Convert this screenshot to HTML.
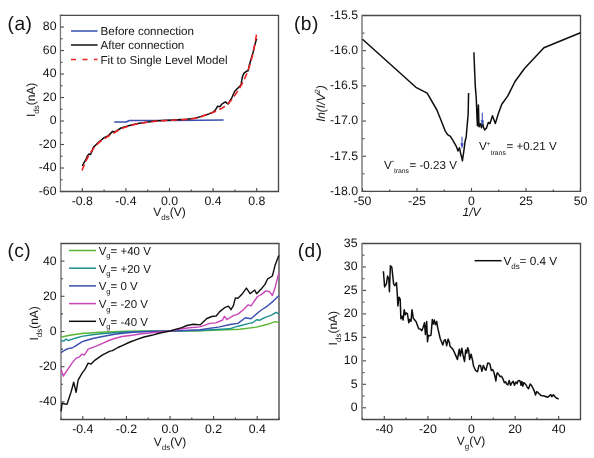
<!DOCTYPE html>
<html><head><meta charset="utf-8"><style>
html,body{margin:0;padding:0;background:#fff;width:594px;height:458px;overflow:hidden}
svg{display:block;font-family:"Liberation Sans", sans-serif;text-rendering:geometricPrecision}
</style></head><body>
<svg width="594" height="458" viewBox="0 0 594 458">
<defs><filter id="bl" x="-5%" y="-5%" width="110%" height="110%"><feGaussianBlur stdDeviation="0.3"/></filter></defs>
<rect width="594" height="458" fill="#fff"/>
<g filter="url(#bl)">
<path d="M60.5 15.3 H278.5 V191.5 H60.5" fill="none" stroke="#484848" stroke-width="1.35" stroke-linecap="square"/>
<line x1="60.45" y1="14.7" x2="60.45" y2="192.1" stroke="#7a7a7a" stroke-width="1.3"/>
<line x1="104.1" y1="191.5" x2="104.1" y2="189.5" stroke="#484848" stroke-width="1.1"/>
<line x1="147.7" y1="191.5" x2="147.7" y2="189.5" stroke="#484848" stroke-width="1.1"/>
<line x1="191.3" y1="191.5" x2="191.3" y2="189.5" stroke="#484848" stroke-width="1.1"/>
<line x1="234.9" y1="191.5" x2="234.9" y2="189.5" stroke="#484848" stroke-width="1.1"/>
<line x1="82.3" y1="191.5" x2="82.3" y2="188" stroke="#484848" stroke-width="1.1"/>
<text x="82.3" y="205" font-size="12.3" text-anchor="middle" fill="#141414">-0.8</text>
<line x1="125.9" y1="191.5" x2="125.9" y2="188" stroke="#484848" stroke-width="1.1"/>
<text x="125.9" y="205" font-size="12.3" text-anchor="middle" fill="#141414">-0.4</text>
<line x1="169.5" y1="191.5" x2="169.5" y2="188" stroke="#484848" stroke-width="1.1"/>
<text x="169.5" y="205" font-size="12.3" text-anchor="middle" fill="#141414">0.0</text>
<line x1="213.1" y1="191.5" x2="213.1" y2="188" stroke="#484848" stroke-width="1.1"/>
<text x="213.1" y="205" font-size="12.3" text-anchor="middle" fill="#141414">0.4</text>
<line x1="256.7" y1="191.5" x2="256.7" y2="188" stroke="#484848" stroke-width="1.1"/>
<text x="256.7" y="205" font-size="12.3" text-anchor="middle" fill="#141414">0.8</text>
<line x1="60.5" y1="179.75" x2="62.5" y2="179.75" stroke="#484848" stroke-width="1.1"/>
<line x1="60.5" y1="156.26" x2="62.5" y2="156.26" stroke="#484848" stroke-width="1.1"/>
<line x1="60.5" y1="132.77" x2="62.5" y2="132.77" stroke="#484848" stroke-width="1.1"/>
<line x1="60.5" y1="109.27" x2="62.5" y2="109.27" stroke="#484848" stroke-width="1.1"/>
<line x1="60.5" y1="85.78" x2="62.5" y2="85.78" stroke="#484848" stroke-width="1.1"/>
<line x1="60.5" y1="62.29" x2="62.5" y2="62.29" stroke="#484848" stroke-width="1.1"/>
<line x1="60.5" y1="38.79" x2="62.5" y2="38.79" stroke="#484848" stroke-width="1.1"/>
<line x1="60.5" y1="15.3" x2="62.5" y2="15.3" stroke="#484848" stroke-width="1.1"/>
<line x1="60.5" y1="191.5" x2="64" y2="191.5" stroke="#484848" stroke-width="1.1"/>
<text x="56.5" y="194.9" font-size="12.3" text-anchor="end" fill="#141414">-60</text>
<line x1="60.5" y1="168.01" x2="64" y2="168.01" stroke="#484848" stroke-width="1.1"/>
<text x="56.5" y="171.41" font-size="12.3" text-anchor="end" fill="#141414">-40</text>
<line x1="60.5" y1="144.51" x2="64" y2="144.51" stroke="#484848" stroke-width="1.1"/>
<text x="56.5" y="147.91" font-size="12.3" text-anchor="end" fill="#141414">-20</text>
<line x1="60.5" y1="121.02" x2="64" y2="121.02" stroke="#484848" stroke-width="1.1"/>
<text x="56.5" y="124.42" font-size="12.3" text-anchor="end" fill="#141414">0</text>
<line x1="60.5" y1="97.53" x2="64" y2="97.53" stroke="#484848" stroke-width="1.1"/>
<text x="56.5" y="100.93" font-size="12.3" text-anchor="end" fill="#141414">20</text>
<line x1="60.5" y1="74.03" x2="64" y2="74.03" stroke="#484848" stroke-width="1.1"/>
<text x="56.5" y="77.43" font-size="12.3" text-anchor="end" fill="#141414">40</text>
<line x1="60.5" y1="50.54" x2="64" y2="50.54" stroke="#484848" stroke-width="1.1"/>
<text x="56.5" y="53.94" font-size="12.3" text-anchor="end" fill="#141414">60</text>
<line x1="60.5" y1="27.05" x2="64" y2="27.05" stroke="#484848" stroke-width="1.1"/>
<text x="56.5" y="30.45" font-size="12.3" text-anchor="end" fill="#141414">80</text>
<text x="7.5" y="30" font-size="19.2" text-anchor="start" fill="#141414" letter-spacing="0.5">(a)</text>
<text x="169.5" y="215.5" font-size="12" text-anchor="middle" fill="#141414">V<tspan font-size="8" dy="4.5">ds</tspan><tspan dy="-4.5">(V)</tspan></text>
<text transform="translate(34.6 117.1) rotate(-90)" font-size="12" fill="#141414">I<tspan font-size="8" dy="4.3">ds</tspan><tspan dy="-4.3">(nA)</tspan></text>
<path d="M71 31 L97.5 31" fill="none" stroke="#3050b0" stroke-width="1.5" stroke-linejoin="round"/>
<path d="M71 45 L97.5 45" fill="none" stroke="#111" stroke-width="1.5" stroke-linejoin="round"/>
<path d="M71 59.5 L97.5 59.5" fill="none" stroke="#ee2222" stroke-width="1.5" stroke-linejoin="round" stroke-dasharray="5 6.5"/>
<text x="100.5" y="35.2" font-size="11.6" text-anchor="start" fill="#141414">Before connection</text>
<text x="100.5" y="49.2" font-size="11.6" text-anchor="start" fill="#141414">After connection</text>
<text x="100.5" y="63.6" font-size="11.6" text-anchor="start" fill="#141414">Fit to Single Level Model</text>
<path d="M114.3 122.1 L126 122 L129.5 120.5 L140 120.6 L170 120.5 L200 120.3 L223.6 119.9" fill="none" stroke="#3a50b0" stroke-width="1.5" stroke-linejoin="round"/>
<path d="M82.4 166 L84 162.7 L85.7 160 L87.3 156.1 L88.9 154 L90.5 154.5 L92.2 150.7 L93.3 147.4 L95.5 145.2 L98.2 142.5 L100 141 L104.2 137.7 L108.4 135.6 L112.6 131.4 L115.2 131.8 L121 128 L129.5 125.5 L137.9 123.4 L150 121.7 L157.9 120.7 L172.2 120.1 L186.5 119.3 L195 118.2 L202.1 116.1 L205 115.2 L209.2 113.9 L213.4 111.8 L215.6 109.7 L217.7 106.1 L219.8 106.8 L222 104 L224.1 102.6 L225.5 101.9 L226.9 103.3 L228.4 104 L229.8 101.2 L231.9 97.6 L234.7 91.2 L237.6 88.4 L241.1 84.8 L241.8 79.9 L242.5 76.5 L244 73.1 L246.4 71.3 L248.2 70.7 L249.4 64.7 L251.2 58.7 L253 52.7 L254.8 44.8 L256.7 38.8" fill="none" stroke="#111" stroke-width="1.5" stroke-linejoin="round"/>
<path d="M82 170.5 L82.58 169 L83.17 167.53 L83.75 166.1 L84.34 164.71 L84.92 163.36 L85.51 162.05 L86.09 160.79 L86.67 159.58 L87.26 158.41 L87.84 157.29 L88.43 156.22 L89.01 155.18 L89.6 154.16 L90.18 153.18 L90.76 152.24 L91.35 151.34 L91.93 150.47 L92.52 149.65 L93.1 148.88 L93.69 148.15 L94.27 147.45 L94.85 146.77 L95.44 146.12 L96.02 145.49 L96.61 144.89 L97.19 144.31 L97.78 143.75 L98.36 143.21 L98.94 142.69 L99.53 142.19 L100.11 141.71 L100.7 141.25 L101.28 140.81 L101.87 140.38 L102.45 139.97 L103.03 139.57 L103.62 139.18 L104.2 138.8 L104.79 138.43 L105.37 138.07 L105.96 137.71 L106.54 137.35 L107.12 136.99 L107.71 136.63 L108.29 136.27 L108.88 135.9 L109.46 135.55 L110.05 135.19 L110.63 134.85 L111.21 134.5 L111.8 134.16 L112.38 133.82 L112.97 133.48 L113.55 133.14 L114.14 132.8 L114.72 132.46 L115.3 132.12 L115.89 131.76 L116.47 131.4 L117.06 131.03 L117.64 130.66 L118.23 130.3 L118.81 129.95 L119.39 129.61 L119.98 129.29 L120.56 129 L121.15 128.74 L121.73 128.49 L122.32 128.25 L122.9 128.03 L123.48 127.81 L124.07 127.6 L124.65 127.4 L125.24 127.2 L125.82 127.02 L126.41 126.83 L126.99 126.65 L127.57 126.47 L128.16 126.3 L128.74 126.12 L129.33 125.95 L129.91 125.78 L130.5 125.61 L131.08 125.43 L131.66 125.26 L132.25 125.1 L132.83 124.93 L133.42 124.77 L134 124.61 L134.59 124.46 L135.17 124.31 L135.75 124.17 L136.34 124.03 L136.92 123.9 L137.51 123.78 L138.09 123.66 L138.68 123.55 L139.26 123.45 L139.84 123.34 L140.43 123.25 L141.01 123.15 L141.6 123.05 L142.18 122.96 L142.77 122.87 L143.35 122.79 L143.93 122.7 L144.52 122.62 L145.1 122.54 L145.69 122.46 L146.27 122.38 L146.86 122.31 L147.44 122.23 L148.02 122.15 L148.61 122.08 L149.19 122 L149.78 121.93 L150.36 121.85 L150.95 121.78 L151.53 121.7 L152.11 121.63 L152.7 121.55 L153.28 121.48 L153.87 121.41 L154.45 121.34 L155.04 121.27 L155.62 121.21 L156.2 121.15 L156.79 121.09 L157.37 121.04 L157.96 121 L158.54 120.95 L159.13 120.91 L159.71 120.87 L160.29 120.83 L160.88 120.79 L161.46 120.76 L162.05 120.72 L162.63 120.69 L163.22 120.66 L163.8 120.63 L164.38 120.6 L164.97 120.57 L165.55 120.54 L166.14 120.51 L166.72 120.48 L167.31 120.45 L167.89 120.42 L168.47 120.39 L169.06 120.36 L169.64 120.33 L170.23 120.31 L170.81 120.28 L171.39 120.24 L171.98 120.21 L172.56 120.18 L173.15 120.15 L173.73 120.12 L174.32 120.09 L174.9 120.06 L175.48 120.03 L176.07 120 L176.65 119.98 L177.24 119.95 L177.82 119.92 L178.41 119.9 L178.99 119.87 L179.57 119.84 L180.16 119.81 L180.74 119.78 L181.33 119.75 L181.91 119.72 L182.5 119.68 L183.08 119.65 L183.66 119.61 L184.25 119.57 L184.83 119.53 L185.42 119.49 L186 119.44 L186.59 119.39 L187.17 119.34 L187.75 119.29 L188.34 119.23 L188.92 119.17 L189.51 119.11 L190.09 119.04 L190.68 118.97 L191.26 118.89 L191.84 118.81 L192.43 118.73 L193.01 118.64 L193.6 118.55 L194.18 118.45 L194.77 118.35 L195.35 118.25 L195.93 118.13 L196.52 118.02 L197.1 117.89 L197.69 117.77 L198.27 117.63 L198.86 117.49 L199.44 117.35 L200.02 117.19 L200.61 116.99 L201.19 116.72 L201.78 116.44 L202.36 116.2 L202.95 115.97 L203.53 115.75 L204.11 115.54 L204.7 115.33 L205.28 115.13 L205.87 114.93 L206.45 114.73 L207.04 114.54 L207.62 114.34 L208.2 114.14 L208.79 113.94 L209.37 113.74 L209.96 113.53 L210.54 113.32 L211.13 113.1 L211.71 112.88 L212.29 112.64 L212.88 112.4 L213.46 112.16 L214.05 111.92 L214.63 111.68 L215.22 111.44 L215.8 111.19 L216.38 110.94 L216.97 110.68 L217.55 110.42 L218.14 110.15 L218.72 109.88 L219.31 109.59 L219.89 109.3 L220.47 109 L221.06 108.68 L221.64 108.36 L222.23 108.02 L222.81 107.67 L223.4 107.3 L223.98 106.92 L224.56 106.5 L225.15 106.06 L225.73 105.59 L226.32 105.1 L226.9 104.59 L227.49 104.05 L228.07 103.5 L228.65 102.92 L229.24 102.33 L229.82 101.72 L230.41 101.1 L230.99 100.46 L231.58 99.77 L232.16 99.06 L232.74 98.31 L233.33 97.53 L233.91 96.72 L234.5 95.89 L235.08 95.04 L235.67 94.17 L236.25 93.29 L236.83 92.39 L237.42 91.48 L238 90.57 L238.59 89.64 L239.17 88.69 L239.76 87.72 L240.34 86.73 L240.92 85.72 L241.51 84.68 L242.09 83.61 L242.68 82.5 L243.26 81.37 L243.85 80.19 L244.43 78.98 L245.01 77.72 L245.6 76.4 L246.18 75.03 L246.77 73.6 L247.35 72.1 L247.94 70.54 L248.52 68.91 L249.1 67.21 L249.69 65.42 L250.27 63.54 L250.86 61.52 L251.44 59.38 L252.03 57.1 L252.61 54.69 L253.19 52.13 L253.78 49.39 L254.36 46.45 L254.95 43.33 L255.53 40.04 L256.12 36.6 L256.7 33" fill="none" stroke="#ee2222" stroke-width="1.6" stroke-linejoin="round" stroke-dasharray="6.5 3.5"/>
<path d="M362.5 15.5 H580.5 V191.4 H362.5" fill="none" stroke="#484848" stroke-width="1.35" stroke-linecap="square"/>
<line x1="362" y1="14.9" x2="362" y2="192" stroke="#858585" stroke-width="1.6"/>
<line x1="389.75" y1="191.4" x2="389.75" y2="189.4" stroke="#484848" stroke-width="1.1"/>
<line x1="444.25" y1="191.4" x2="444.25" y2="189.4" stroke="#484848" stroke-width="1.1"/>
<line x1="498.75" y1="191.4" x2="498.75" y2="189.4" stroke="#484848" stroke-width="1.1"/>
<line x1="553.25" y1="191.4" x2="553.25" y2="189.4" stroke="#484848" stroke-width="1.1"/>
<line x1="362.5" y1="191.4" x2="362.5" y2="187.9" stroke="#484848" stroke-width="1.1"/>
<text x="362.5" y="205" font-size="12.3" text-anchor="middle" fill="#141414">-50</text>
<line x1="417" y1="191.4" x2="417" y2="187.9" stroke="#484848" stroke-width="1.1"/>
<text x="417" y="205" font-size="12.3" text-anchor="middle" fill="#141414">-25</text>
<line x1="471.5" y1="191.4" x2="471.5" y2="187.9" stroke="#484848" stroke-width="1.1"/>
<text x="471.5" y="205" font-size="12.3" text-anchor="middle" fill="#141414">0</text>
<line x1="526" y1="191.4" x2="526" y2="187.9" stroke="#484848" stroke-width="1.1"/>
<text x="526" y="205" font-size="12.3" text-anchor="middle" fill="#141414">25</text>
<line x1="580.5" y1="191.4" x2="580.5" y2="187.9" stroke="#484848" stroke-width="1.1"/>
<text x="580.5" y="205" font-size="12.3" text-anchor="middle" fill="#141414">50</text>
<line x1="362.5" y1="173.81" x2="364.5" y2="173.81" stroke="#484848" stroke-width="1.1"/>
<line x1="362.5" y1="138.63" x2="364.5" y2="138.63" stroke="#484848" stroke-width="1.1"/>
<line x1="362.5" y1="103.45" x2="364.5" y2="103.45" stroke="#484848" stroke-width="1.1"/>
<line x1="362.5" y1="68.27" x2="364.5" y2="68.27" stroke="#484848" stroke-width="1.1"/>
<line x1="362.5" y1="33.09" x2="364.5" y2="33.09" stroke="#484848" stroke-width="1.1"/>
<line x1="362.5" y1="191.4" x2="366" y2="191.4" stroke="#484848" stroke-width="1.1"/>
<text x="358" y="194.8" font-size="12.3" text-anchor="end" fill="#141414">-18.0</text>
<line x1="362.5" y1="156.22" x2="366" y2="156.22" stroke="#484848" stroke-width="1.1"/>
<text x="358" y="159.62" font-size="12.3" text-anchor="end" fill="#141414">-17.5</text>
<line x1="362.5" y1="121.04" x2="366" y2="121.04" stroke="#484848" stroke-width="1.1"/>
<text x="358" y="124.44" font-size="12.3" text-anchor="end" fill="#141414">-17.0</text>
<line x1="362.5" y1="85.86" x2="366" y2="85.86" stroke="#484848" stroke-width="1.1"/>
<text x="358" y="89.26" font-size="12.3" text-anchor="end" fill="#141414">-16.5</text>
<line x1="362.5" y1="50.68" x2="366" y2="50.68" stroke="#484848" stroke-width="1.1"/>
<text x="358" y="54.08" font-size="12.3" text-anchor="end" fill="#141414">-16.0</text>
<line x1="362.5" y1="15.5" x2="366" y2="15.5" stroke="#484848" stroke-width="1.1"/>
<text x="358" y="18.9" font-size="12.3" text-anchor="end" fill="#141414">-15.5</text>
<text x="293.9" y="30" font-size="19.2" text-anchor="start" fill="#141414" letter-spacing="0.5">(b)</text>
<text x="471.5" y="215.5" font-size="12" text-anchor="middle" font-style="italic" fill="#141414">1/V</text>
<text transform="translate(324.8 121.5) rotate(-90)" font-size="12" font-style="italic" fill="#141414">ln(I/V<tspan font-size="7.5" dy="-4.5">2</tspan><tspan dy="4.5">)</tspan></text>
<path d="M362.5 39.3 L415.9 87.3 L427.2 93.2 L436.9 110 L440 117.7 L442.2 123.2 L444.9 130.3 L447.6 134.6 L450.4 136.3 L453.1 140.6 L456.4 146.6 L458 151 L459.4 147.7 L460.7 153.7 L461.8 157.5 L462.4 160.8 L462.9 157.5 L464 149.9 L465.1 141.2 L466.2 136.8 L467.3 123.7 L468.1 115 L468.6 93.1" fill="none" stroke="#111" stroke-width="1.5" stroke-linejoin="round"/>
<path d="M473.9 52.2 L474.6 70 L475.3 86.4 L476.3 98.8 L477 118 L477.4 125.7 L478.4 105 L479 126.8 L480.5 123.7 L481.5 127.8 L482.6 122.8 L483.5 127 L484.6 129.9 L486.5 128 L488.3 122.5 L490 123.5 L492.5 115.8 L495.3 123.6 L498.2 114 L501.8 104.3 L507.8 95.9 L515 81.5 L524.7 68.3 L543.9 47.8 L580.5 32.7" fill="none" stroke="#111" stroke-width="1.5" stroke-linejoin="round"/>
<line x1="462" y1="136.8" x2="462" y2="145" stroke="#3a50b8" stroke-width="1.1"/>
<path d="M460.4 143.2 L462 149 L463.6 143.2 Z" fill="#3a50b8"/>
<line x1="482.3" y1="112.8" x2="482.3" y2="122" stroke="#3a50b8" stroke-width="1.1"/>
<path d="M480.7 120.3 L482.3 126.3 L483.9 120.3 Z" fill="#3a50b8"/>
<text x="384" y="169.1" font-size="11.7" text-anchor="start" fill="#141414">V</text>
<line x1="391.6" y1="161.4" x2="394" y2="161.4" stroke="#555" stroke-width="0.9"/>
<text x="393.9" y="173.4" font-size="6.8" text-anchor="start" fill="#141414">trans</text>
<text x="409.5" y="169.1" font-size="11.6" text-anchor="start" fill="#141414">= -0.23 V</text>
<text x="479" y="150.1" font-size="11.7" text-anchor="start" fill="#141414">V</text>
<text x="486.8" y="145.9" font-size="6.5" text-anchor="start" fill="#141414">+</text>
<text x="490.7" y="154.5" font-size="6.8" text-anchor="start" fill="#141414">trans</text>
<text x="506.4" y="150.1" font-size="11.6" text-anchor="start" fill="#141414">= +0.21 V</text>
<path d="M61 243.5 H279 V419.5 H61" fill="none" stroke="#484848" stroke-width="1.35" stroke-linecap="square"/>
<line x1="61" y1="242.9" x2="61" y2="420.1" stroke="#858585" stroke-width="1.6"/>
<line x1="61" y1="419.5" x2="61" y2="417.5" stroke="#484848" stroke-width="1.1"/>
<line x1="104.6" y1="419.5" x2="104.6" y2="417.5" stroke="#484848" stroke-width="1.1"/>
<line x1="148.2" y1="419.5" x2="148.2" y2="417.5" stroke="#484848" stroke-width="1.1"/>
<line x1="191.8" y1="419.5" x2="191.8" y2="417.5" stroke="#484848" stroke-width="1.1"/>
<line x1="235.4" y1="419.5" x2="235.4" y2="417.5" stroke="#484848" stroke-width="1.1"/>
<line x1="279" y1="419.5" x2="279" y2="417.5" stroke="#484848" stroke-width="1.1"/>
<line x1="82.8" y1="419.5" x2="82.8" y2="416" stroke="#484848" stroke-width="1.1"/>
<text x="82.8" y="433.3" font-size="12.3" text-anchor="middle" fill="#141414">-0.4</text>
<line x1="126.4" y1="419.5" x2="126.4" y2="416" stroke="#484848" stroke-width="1.1"/>
<text x="126.4" y="433.3" font-size="12.3" text-anchor="middle" fill="#141414">-0.2</text>
<line x1="170" y1="419.5" x2="170" y2="416" stroke="#484848" stroke-width="1.1"/>
<text x="170" y="433.3" font-size="12.3" text-anchor="middle" fill="#141414">0.0</text>
<line x1="213.6" y1="419.5" x2="213.6" y2="416" stroke="#484848" stroke-width="1.1"/>
<text x="213.6" y="433.3" font-size="12.3" text-anchor="middle" fill="#141414">0.2</text>
<line x1="257.2" y1="419.5" x2="257.2" y2="416" stroke="#484848" stroke-width="1.1"/>
<text x="257.2" y="433.3" font-size="12.3" text-anchor="middle" fill="#141414">0.4</text>
<line x1="61" y1="419.5" x2="63" y2="419.5" stroke="#484848" stroke-width="1.1"/>
<line x1="61" y1="384.3" x2="63" y2="384.3" stroke="#484848" stroke-width="1.1"/>
<line x1="61" y1="349.1" x2="63" y2="349.1" stroke="#484848" stroke-width="1.1"/>
<line x1="61" y1="313.9" x2="63" y2="313.9" stroke="#484848" stroke-width="1.1"/>
<line x1="61" y1="278.7" x2="63" y2="278.7" stroke="#484848" stroke-width="1.1"/>
<line x1="61" y1="243.5" x2="63" y2="243.5" stroke="#484848" stroke-width="1.1"/>
<line x1="61" y1="401.9" x2="64.5" y2="401.9" stroke="#484848" stroke-width="1.1"/>
<text x="56.7" y="405.3" font-size="12.3" text-anchor="end" fill="#141414">-40</text>
<line x1="61" y1="366.7" x2="64.5" y2="366.7" stroke="#484848" stroke-width="1.1"/>
<text x="56.7" y="370.1" font-size="12.3" text-anchor="end" fill="#141414">-20</text>
<line x1="61" y1="331.5" x2="64.5" y2="331.5" stroke="#484848" stroke-width="1.1"/>
<text x="56.7" y="334.9" font-size="12.3" text-anchor="end" fill="#141414">0</text>
<line x1="61" y1="296.3" x2="64.5" y2="296.3" stroke="#484848" stroke-width="1.1"/>
<text x="56.7" y="299.7" font-size="12.3" text-anchor="end" fill="#141414">20</text>
<line x1="61" y1="261.1" x2="64.5" y2="261.1" stroke="#484848" stroke-width="1.1"/>
<text x="56.7" y="264.5" font-size="12.3" text-anchor="end" fill="#141414">40</text>
<text x="7.4" y="257.3" font-size="19.2" text-anchor="start" fill="#141414" letter-spacing="0.5">(c)</text>
<text x="170" y="445.6" font-size="12" text-anchor="middle" fill="#141414">V<tspan font-size="8" dy="4.2">ds</tspan><tspan dy="-4.2">(V)</tspan></text>
<text transform="translate(37.7 340.6) rotate(-90)" font-size="12" fill="#141414">I<tspan font-size="8" dy="4.3">ds</tspan><tspan dy="-4.3">(nA)</tspan></text>
<path d="M69 250.5 L96 250.5" fill="none" stroke="#5ab535" stroke-width="1.5" stroke-linejoin="round"/>
<text x="98.7" y="254.8" font-size="11.5" fill="#141414">V<tspan font-size="7.6" dy="3.6">g</tspan><tspan dy="-3.6">= +40 V</tspan></text>
<path d="M69 268.2 L96 268.2" fill="none" stroke="#1f9090" stroke-width="1.5" stroke-linejoin="round"/>
<text x="98.7" y="272.5" font-size="11.5" fill="#141414">V<tspan font-size="7.6" dy="3.6">g</tspan><tspan dy="-3.6">= +20 V</tspan></text>
<path d="M69 285.9 L96 285.9" fill="none" stroke="#3a4db0" stroke-width="1.5" stroke-linejoin="round"/>
<text x="98.7" y="290.2" font-size="11.5" fill="#141414">V<tspan font-size="7.6" dy="3.6">g</tspan><tspan dy="-3.6">= 0 V</tspan></text>
<path d="M69 303.6 L96 303.6" fill="none" stroke="#c844b8" stroke-width="1.5" stroke-linejoin="round"/>
<text x="98.7" y="307.9" font-size="11.5" fill="#141414">V<tspan font-size="7.6" dy="3.6">g</tspan><tspan dy="-3.6">= -20 V</tspan></text>
<path d="M69 321.3 L96 321.3" fill="none" stroke="#111" stroke-width="1.5" stroke-linejoin="round"/>
<text x="98.7" y="325.6" font-size="11.5" fill="#141414">V<tspan font-size="7.6" dy="3.6">g</tspan><tspan dy="-3.6">= -40 V</tspan></text>
<path d="M61.1 337 L70 335.3 L81.8 333.5 L100 332.3 L125.5 331.3 L150 331 L170 331 L200 330.8 L240 329.3 L256.6 327.1 L267.7 324.3 L275.2 321.6 L279 322.5" fill="none" stroke="#5ab535" stroke-width="1.4" stroke-linejoin="round"/>
<path d="M61.1 340.7 L64 341 L66 339 L68 340.5 L70.9 339.6 L76 338 L81.8 336.4 L92 334.8 L103.6 333.5 L125.5 332 L150 331.3 L170 331 L200 330.5 L229.5 328.8 L238 326.2 L249.2 323.4 L252.5 322.8 L256.6 319.7 L260 320.2 L264 317.8 L271.5 315.1 L276.1 312.3 L279 314.1" fill="none" stroke="#1f9090" stroke-width="1.4" stroke-linejoin="round"/>
<path d="M61.1 352.7 L65 350 L68.7 348.4 L72 348 L75.3 346.2 L81.8 341.8 L86 340.5 L92.7 338.5 L100 337 L114.6 334.2 L125 333 L136.4 332 L150 331.5 L170 331 L185 330.5 L200 329.8 L219.7 326.9 L230 324.5 L238 323.4 L245.4 317.8 L251 318.8 L258.4 312.3 L262.2 309.5 L267.7 305.8 L273.3 301.1 L279 295.5" fill="none" stroke="#3a4db0" stroke-width="1.4" stroke-linejoin="round"/>
<path d="M61.1 369.2 L63.3 376 L67.3 370.2 L72 363.1 L76.1 358.1 L79.1 357.1 L82.1 354.1 L84.5 355 L88.1 349.1 L96.1 346.1 L103.2 343.1 L110 340 L114.6 338.5 L122 336.5 L132 335.3 L140 334 L151.7 332.7 L170 331 L180 329 L189.6 327.8 L200 326.9 L209.8 323.4 L215.7 322.9 L222.6 320 L224.4 316.3 L227 319.5 L233.4 315.6 L238 314.1 L243.6 309.5 L248.2 304.8 L251 305.8 L257.5 296.5 L261.2 294.6 L265.9 290.9 L269.6 291.8 L272.4 295.5 L275.2 287.2 L278 276 L279 273" fill="none" stroke="#c844b8" stroke-width="1.4" stroke-linejoin="round"/>
<path d="M61.1 411.5 L62.1 403.3 L65 404 L67 404.3 L71 392.3 L73.7 382.2 L76.1 392.3 L78.1 380.2 L82.1 373.2 L85.1 369.2 L88.1 363.1 L91.1 364.1 L95.1 360.1 L102.2 355.1 L110 351.1 L112.4 350.6 L118 347.5 L123.3 345.1 L130 342 L136.4 339.6 L144 337 L151.7 335.3 L160 333 L170 331 L181.8 327.6 L187 325.5 L193.6 324.3 L200 324.9 L206.9 318.5 L211.8 316.5 L216.2 316 L219.7 311.6 L224.6 307.7 L228.5 306.2 L231 309.7 L233.4 305.7 L235.4 297.9 L238 298.3 L241.7 294.6 L246.4 288.1 L250.1 293.7 L254.7 290 L256.6 293.7 L261.2 289 L265 284.4 L267.7 278.8 L272.4 276 L275.2 264.9 L278 257.4 L279 255.5" fill="none" stroke="#111" stroke-width="1.4" stroke-linejoin="round"/>
<path d="M362.5 243.5 H580.5 V419.5 H362.5" fill="none" stroke="#484848" stroke-width="1.35" stroke-linecap="square"/>
<line x1="362" y1="242.9" x2="362" y2="420.1" stroke="#858585" stroke-width="1.6"/>
<line x1="406.1" y1="419.5" x2="406.1" y2="417.5" stroke="#484848" stroke-width="1.1"/>
<line x1="449.7" y1="419.5" x2="449.7" y2="417.5" stroke="#484848" stroke-width="1.1"/>
<line x1="493.3" y1="419.5" x2="493.3" y2="417.5" stroke="#484848" stroke-width="1.1"/>
<line x1="536.9" y1="419.5" x2="536.9" y2="417.5" stroke="#484848" stroke-width="1.1"/>
<line x1="362.5" y1="419.5" x2="362.5" y2="417.5" stroke="#484848" stroke-width="1.1"/>
<line x1="580.5" y1="419.5" x2="580.5" y2="417.5" stroke="#484848" stroke-width="1.1"/>
<line x1="384.3" y1="419.5" x2="384.3" y2="416" stroke="#484848" stroke-width="1.1"/>
<text x="384.3" y="433.3" font-size="12.3" text-anchor="middle" fill="#141414">-40</text>
<line x1="427.9" y1="419.5" x2="427.9" y2="416" stroke="#484848" stroke-width="1.1"/>
<text x="427.9" y="433.3" font-size="12.3" text-anchor="middle" fill="#141414">-20</text>
<line x1="471.5" y1="419.5" x2="471.5" y2="416" stroke="#484848" stroke-width="1.1"/>
<text x="471.5" y="433.3" font-size="12.3" text-anchor="middle" fill="#141414">0</text>
<line x1="515.1" y1="419.5" x2="515.1" y2="416" stroke="#484848" stroke-width="1.1"/>
<text x="515.1" y="433.3" font-size="12.3" text-anchor="middle" fill="#141414">20</text>
<line x1="558.7" y1="419.5" x2="558.7" y2="416" stroke="#484848" stroke-width="1.1"/>
<text x="558.7" y="433.3" font-size="12.3" text-anchor="middle" fill="#141414">40</text>
<line x1="362.5" y1="396.03" x2="364.5" y2="396.03" stroke="#484848" stroke-width="1.1"/>
<line x1="362.5" y1="372.57" x2="364.5" y2="372.57" stroke="#484848" stroke-width="1.1"/>
<line x1="362.5" y1="349.1" x2="364.5" y2="349.1" stroke="#484848" stroke-width="1.1"/>
<line x1="362.5" y1="325.63" x2="364.5" y2="325.63" stroke="#484848" stroke-width="1.1"/>
<line x1="362.5" y1="302.17" x2="364.5" y2="302.17" stroke="#484848" stroke-width="1.1"/>
<line x1="362.5" y1="278.7" x2="364.5" y2="278.7" stroke="#484848" stroke-width="1.1"/>
<line x1="362.5" y1="255.23" x2="364.5" y2="255.23" stroke="#484848" stroke-width="1.1"/>
<line x1="362.5" y1="407.77" x2="366" y2="407.77" stroke="#484848" stroke-width="1.1"/>
<text x="357.5" y="411.17" font-size="12.3" text-anchor="end" fill="#141414">0</text>
<line x1="362.5" y1="384.3" x2="366" y2="384.3" stroke="#484848" stroke-width="1.1"/>
<text x="357.5" y="387.7" font-size="12.3" text-anchor="end" fill="#141414">5</text>
<line x1="362.5" y1="360.83" x2="366" y2="360.83" stroke="#484848" stroke-width="1.1"/>
<text x="357.5" y="364.23" font-size="12.3" text-anchor="end" fill="#141414">10</text>
<line x1="362.5" y1="337.37" x2="366" y2="337.37" stroke="#484848" stroke-width="1.1"/>
<text x="357.5" y="340.77" font-size="12.3" text-anchor="end" fill="#141414">15</text>
<line x1="362.5" y1="313.9" x2="366" y2="313.9" stroke="#484848" stroke-width="1.1"/>
<text x="357.5" y="317.3" font-size="12.3" text-anchor="end" fill="#141414">20</text>
<line x1="362.5" y1="290.43" x2="366" y2="290.43" stroke="#484848" stroke-width="1.1"/>
<text x="357.5" y="293.83" font-size="12.3" text-anchor="end" fill="#141414">25</text>
<line x1="362.5" y1="266.97" x2="366" y2="266.97" stroke="#484848" stroke-width="1.1"/>
<text x="357.5" y="270.37" font-size="12.3" text-anchor="end" fill="#141414">30</text>
<line x1="362.5" y1="243.5" x2="366" y2="243.5" stroke="#484848" stroke-width="1.1"/>
<text x="357.5" y="246.9" font-size="12.3" text-anchor="end" fill="#141414">35</text>
<text x="297.7" y="257.3" font-size="19.2" text-anchor="start" fill="#141414" letter-spacing="0.5">(d)</text>
<text x="471" y="444.8" font-size="12" text-anchor="middle" fill="#141414">V<tspan font-size="8" dy="4">g</tspan><tspan dy="-4">(V)</tspan></text>
<text transform="translate(336.9 345.4) rotate(-90)" font-size="12" fill="#141414">I<tspan font-size="8" dy="4.3">ds</tspan><tspan dy="-4.3">(nA)</tspan></text>
<path d="M474.6 260.7 L501.6 260.7" fill="none" stroke="#111" stroke-width="1.5" stroke-linejoin="round"/>
<text x="503.4" y="264.6" font-size="11.8" fill="#141414">V<tspan font-size="8" dy="4.2">ds</tspan><tspan dx="-0.2" dy="-4.2">= 0.4 V</tspan></text>
<path d="M383.4 271.2 L384.6 286.9 L386.4 283.9 L387.6 276 L388.8 279.1 L389.4 291.7 L390.4 265.8 L391.8 267 L393.6 283.9 L394.8 285.7 L396.5 282.7 L397.3 294.5 L397.9 306 L399 297.2 L400.2 299.1 L400.9 318.8 L402.2 316.2 L403.1 320.1 L404.2 309.7 L405.2 314.9 L406.1 312.9 L407.4 313.6 L408.8 322.8 L409.7 319.5 L411 321.4 L412 309.7 L413.3 318.2 L416 321.4 L418.6 328.6 L420.5 329.3 L421.9 330.6 L423.2 327.3 L424.5 322.8 L425.4 334.5 L426.7 321.4 L427.5 341.7 L428.4 335.2 L429.7 335.9 L431 335.2 L432.3 319.5 L433.3 324.1 L434.3 320.1 L435.4 324.7 L436.7 321.4 L437.6 327.3 L440.2 338.5 L442.8 345 L444.1 340.4 L445.4 339.8 L446.7 345.7 L448.1 339.1 L449.4 342.4 L450 346.2 L452.9 349.2 L455.4 354.6 L457.4 359.5 L459.3 349.2 L460.3 356 L461.8 348.2 L462.8 354.1 L463.8 358.5 L464.5 361.4 L465.7 350.1 L466.7 353.1 L467.7 347.7 L468.7 350.6 L469.6 359.5 L471.1 354.1 L472.6 360.5 L473.6 366.3 L475.5 370.3 L477.5 371.7 L479 365.4 L480.5 365.4 L481.9 371.3 L483.4 365.4 L484.9 369.3 L485.9 370.3 L487.8 362.9 L489.3 363.4 L490 364.4 L491.3 370.5 L492.6 369.6 L493.9 372.2 L495.2 377.5 L495.9 381 L496.6 374.9 L497.4 372.7 L498.7 374.4 L500.1 376.6 L501.4 376.2 L503.1 379.2 L504.4 382.7 L505.7 381.9 L506.6 384 L507.9 384.9 L509.2 380.5 L510.5 385.3 L511.9 382.7 L513.2 381.4 L514.5 385.3 L515.8 381.9 L517.1 383.6 L518 381 L519.3 380.5 L520.2 381.4 L521 385.3 L521.9 381.4 L522.8 386.2 L523.7 382.7 L524.5 383.2 L525.8 384.5 L527.2 387.1 L528.5 388.8 L530.2 384 L532 386.2 L534.1 390.6 L535.5 395 L536.8 391.5 L540 394.5 L541 395.6 L544.2 396 L547.5 397.3 L550.8 394.7 L551.8 396.7 L553.4 394.7 L555.4 397.3 L558.6 399" fill="none" stroke="#111" stroke-width="1.5" stroke-linejoin="round"/>
</g>
</svg></body></html>
